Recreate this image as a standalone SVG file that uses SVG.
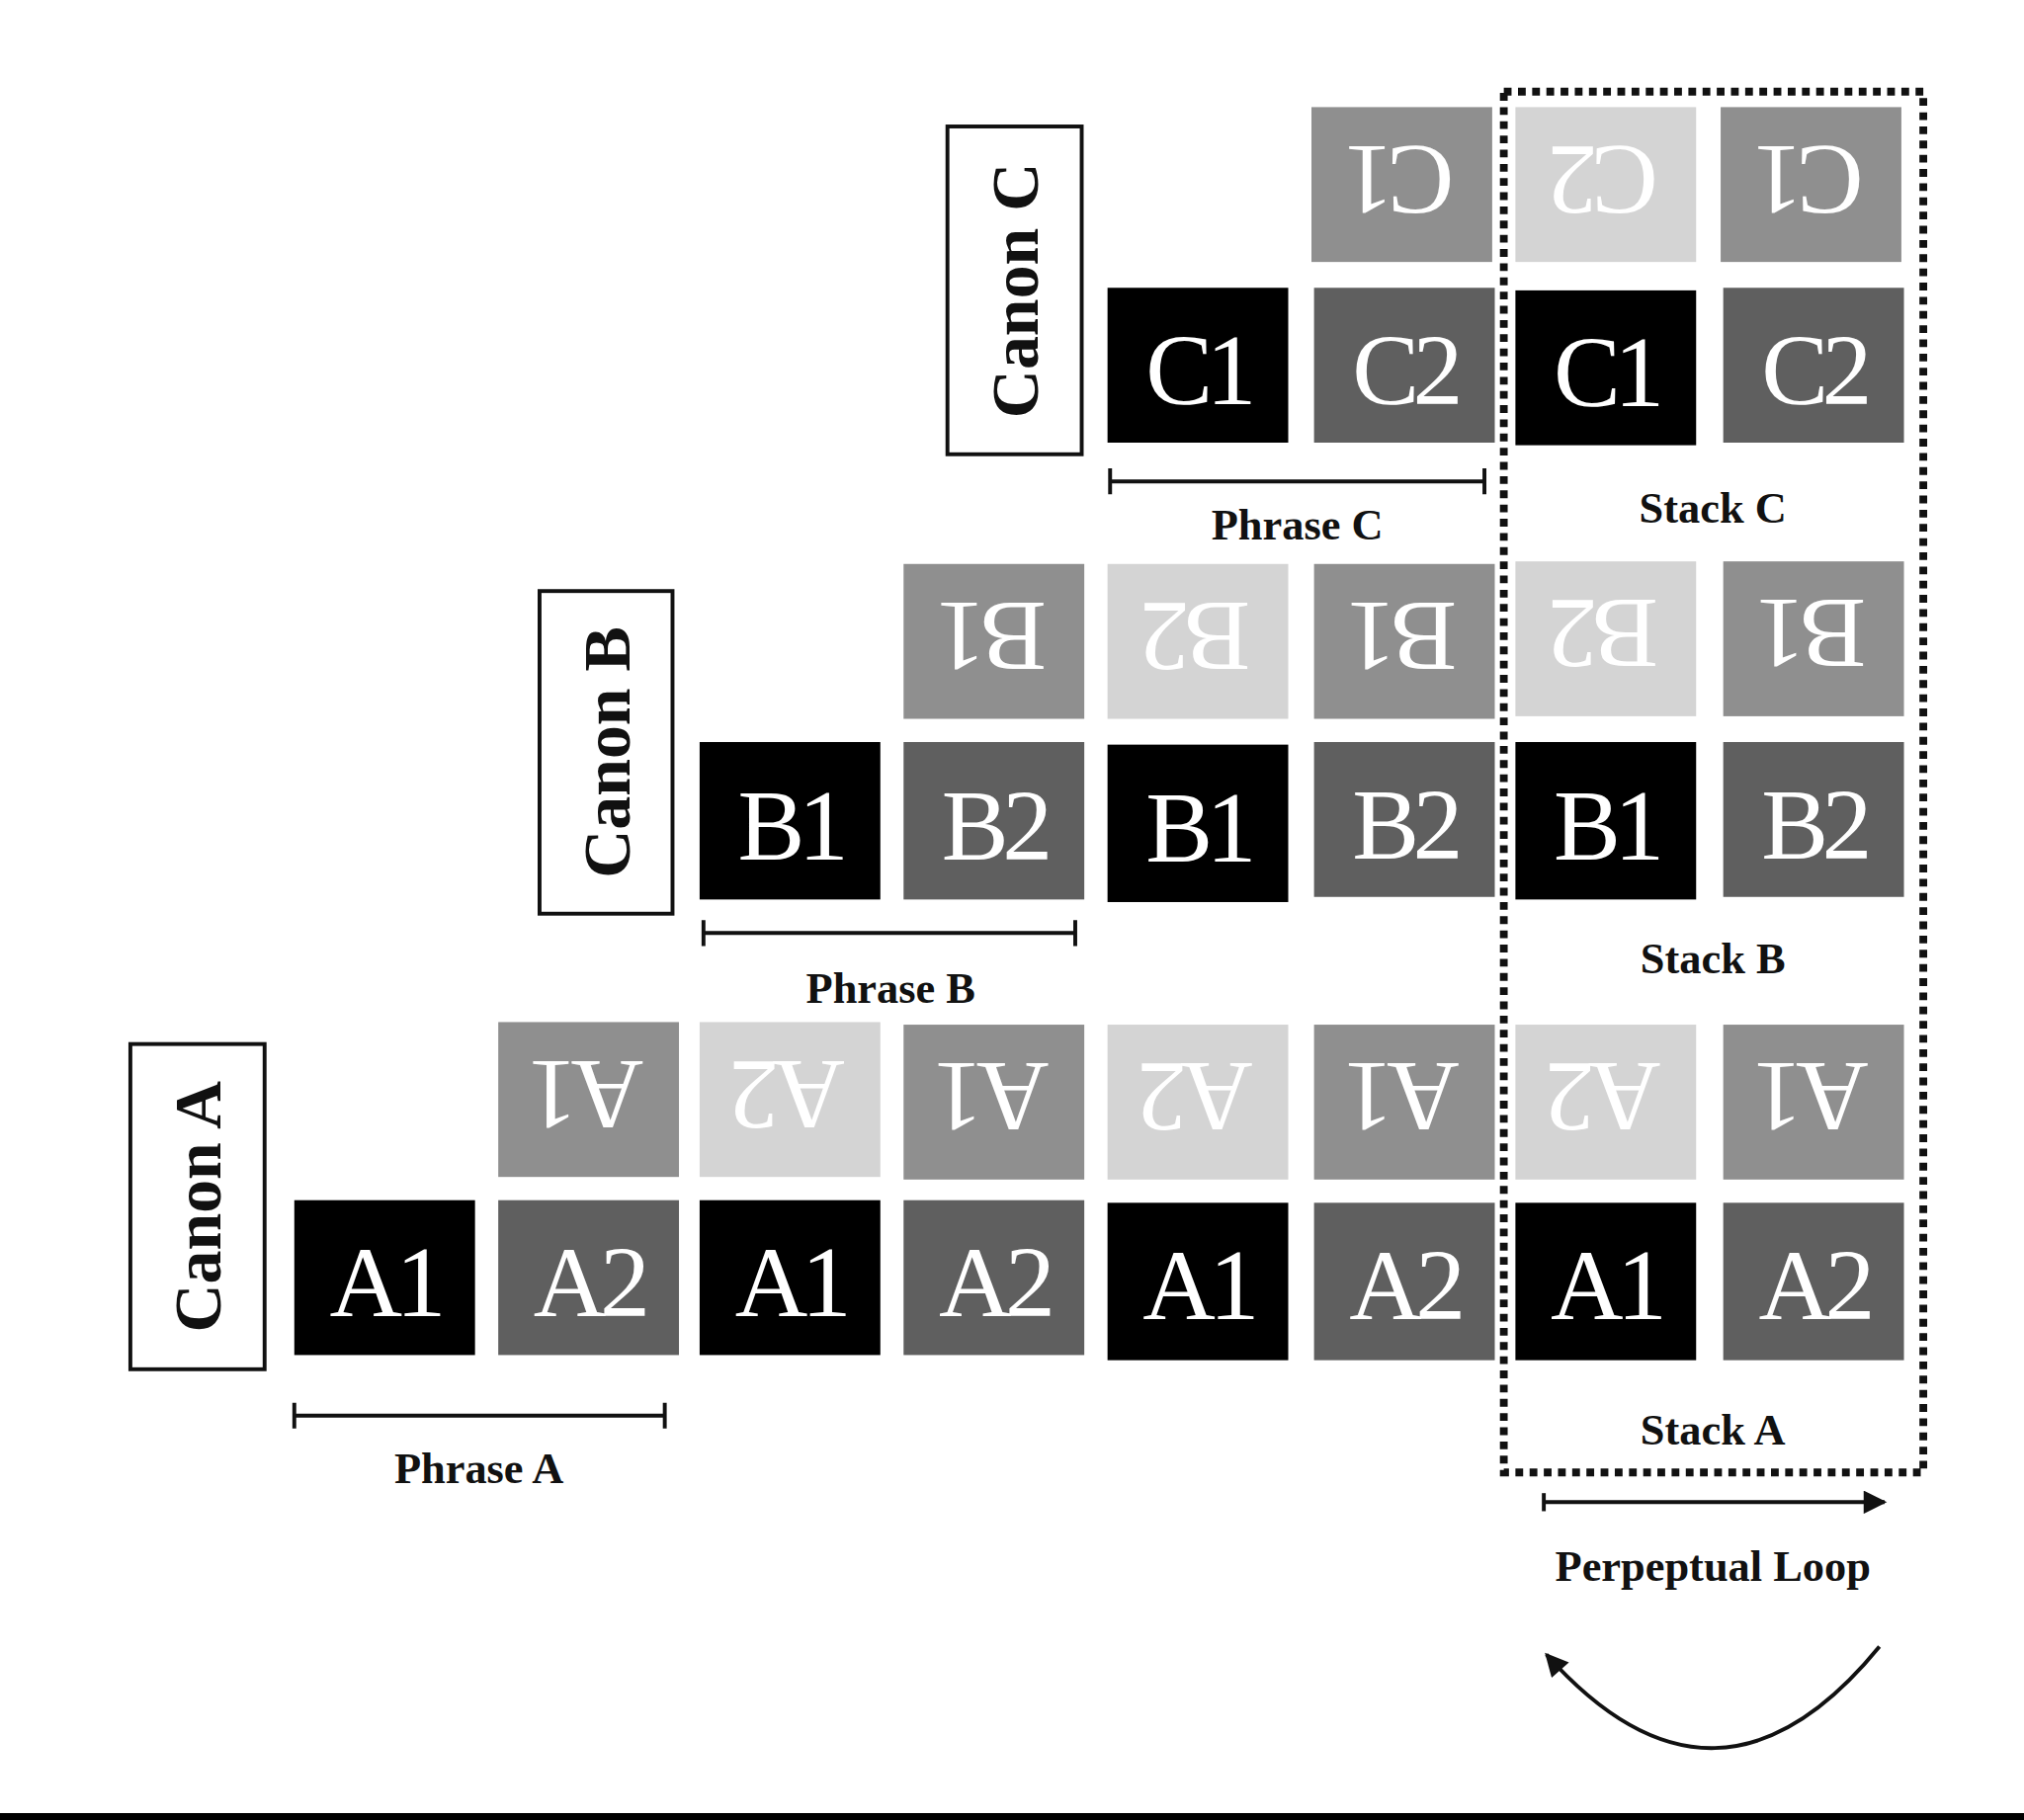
<svg xmlns="http://www.w3.org/2000/svg" width="2048" height="1842" viewBox="0 0 2048 1842">
<defs>
<style>
.k{fill:#000}.d{fill:#5f5f5f}.m{fill:#8f8f8f}.l{fill:#d4d4d4}
.t{font-family:"Liberation Serif",serif;font-size:78px;fill:#fff;text-anchor:middle;letter-spacing:-5px}
.lb{font-family:"Liberation Serif",serif;font-weight:bold;font-size:34px;fill:#111;text-anchor:middle}
.cn{font-family:"Liberation Serif",serif;font-weight:bold;font-size:52px;fill:#111;text-anchor:middle}
.ln{stroke:#111;stroke-width:3;fill:none}
</style>
<marker id="ah" viewBox="0 0 10 10" refX="9" refY="5" markerWidth="22" markerHeight="18" orient="auto" markerUnits="userSpaceOnUse"><path d="M0,0L10,5L0,10z" fill="#111"/></marker>
</defs>
<rect width="2048" height="1842" fill="#fff"/>
<g transform="scale(1.30612)">
<g id="nodes">
<g id="a-b"><rect class="k" x="228" y="930" width="140" height="120"/><text class="t" x="298" y="1020">A1</text>
<rect class="d" x="386" y="930" width="140" height="120"/><text class="t" x="456" y="1020">A2</text>
<rect class="k" x="542" y="930" width="140" height="120"/><text class="t" x="612" y="1020">A1</text>
<rect class="d" x="700" y="930" width="140" height="120"/><text class="t" x="770" y="1020">A2</text>
<rect class="k" x="858" y="932" width="140" height="122"/><text class="t" x="928" y="1022">A1</text>
<rect class="d" x="1018" y="932" width="140" height="122"/><text class="t" x="1088" y="1022">A2</text>
<rect class="k" x="1174" y="932" width="140" height="122"/><text class="t" x="1244" y="1022">A1</text>
<rect class="d" x="1335" y="932" width="140" height="122"/><text class="t" x="1405" y="1022">A2</text></g>
<g id="a-t">
<rect class="m" x="386" y="792" width="140" height="120"/><text class="t" x="456" y="882" transform="rotate(180 456 852)">A1</text>
<rect class="l" x="542" y="792" width="140" height="120"/><text class="t" x="612" y="882" transform="rotate(180 612 852)">A2</text>
<rect class="m" x="700" y="794" width="140" height="120"/><text class="t" x="770" y="884" transform="rotate(180 770 854)">A1</text>
<rect class="l" x="858" y="794" width="140" height="120"/><text class="t" x="928" y="884" transform="rotate(180 928 854)">A2</text>
<rect class="m" x="1018" y="794" width="140" height="120"/><text class="t" x="1088" y="884" transform="rotate(180 1088 854)">A1</text>
<rect class="l" x="1174" y="794" width="140" height="120"/><text class="t" x="1244" y="884" transform="rotate(180 1244 854)">A2</text>
<rect class="m" x="1335" y="794" width="140" height="120"/><text class="t" x="1405" y="884" transform="rotate(180 1405 854)">A1</text></g>
<g id="b-b">
<rect class="k" x="542" y="575" width="140" height="122"/><text class="t" x="612" y="666">B1</text>
<rect class="d" x="700" y="575" width="140" height="122"/><text class="t" x="770" y="666">B2</text>
<rect class="k" x="858" y="577" width="140" height="122"/><text class="t" x="928" y="668">B1</text>
<rect class="d" x="1018" y="575" width="140" height="120"/><text class="t" x="1088" y="665">B2</text>
<rect class="k" x="1174" y="575" width="140" height="122"/><text class="t" x="1244" y="666">B1</text>
<rect class="d" x="1335" y="575" width="140" height="120"/><text class="t" x="1405" y="665">B2</text></g>
<g id="b-t">
<rect class="m" x="700" y="437" width="140" height="120"/><text class="t" x="770" y="527" transform="rotate(180 770 497)">B1</text>
<rect class="l" x="858" y="437" width="140" height="120"/><text class="t" x="928" y="527" transform="rotate(180 928 497)">B2</text>
<rect class="m" x="1018" y="437" width="140" height="120"/><text class="t" x="1088" y="527" transform="rotate(180 1088 497)">B1</text>
<rect class="l" x="1174" y="435" width="140" height="120"/><text class="t" x="1244" y="525" transform="rotate(180 1244 495)">B2</text>
<rect class="m" x="1335" y="435" width="140" height="120"/><text class="t" x="1405" y="525" transform="rotate(180 1405 495)">B1</text></g>
<g id="c-b">
<rect class="k" x="858" y="223" width="140" height="120"/><text class="t" x="928" y="313">C1</text>
<rect class="d" x="1018" y="223" width="140" height="120"/><text class="t" x="1088" y="313">C2</text>
<rect class="k" x="1174" y="225" width="140" height="120"/><text class="t" x="1244" y="315">C1</text>
<rect class="d" x="1335" y="223" width="140" height="120"/><text class="t" x="1405" y="313">C2</text></g>
<g id="c-t">
<rect class="m" x="1016" y="83" width="140" height="120"/><text class="t" x="1086" y="173" transform="rotate(180 1086 143)">C1</text>
<rect class="l" x="1174" y="83" width="140" height="120"/><text class="t" x="1244" y="173" transform="rotate(180 1244 143)">C2</text>
<rect class="m" x="1333" y="83" width="140" height="120"/><text class="t" x="1403" y="173" transform="rotate(180 1403 143)">C1</text></g>
<g id="canonA"><rect x="101" y="809" width="104" height="252" fill="#fff" stroke="#111" stroke-width="3"/><text class="cn" x="153" y="935" transform="rotate(-90 153 935)" dy="18">Canon A</text></g>
<g id="canonB"><rect x="418" y="458" width="103" height="250" fill="#fff" stroke="#111" stroke-width="3"/><text class="cn" x="470" y="583" transform="rotate(-90 470 583)" dy="18">Canon B</text></g>
<g id="canonC"><rect x="734" y="98" width="104" height="254" fill="#fff" stroke="#111" stroke-width="3"/><text class="cn" x="786" y="225" transform="rotate(-90 786 225)" dy="18">Canon C</text></g>
<g id="labels">
<text class="lb" x="371" y="1149">Phrase A</text>
<text class="lb" x="690" y="777">Phrase B</text>
<text class="lb" x="1005" y="418">Phrase C</text>
<text class="lb" x="1327" y="405">Stack C</text>
<text class="lb" x="1327" y="754">Stack B</text>
<text class="lb" x="1327" y="1119">Stack A</text>
<text class="lb" x="1327" y="1225">Perpeptual Loop</text>
</g>
<rect id="loopbox" x="1165" y="71" width="325" height="1070" fill="none" stroke="#111" stroke-width="6" stroke-dasharray="6 5"/>
</g>
<g id="connectors">
<path class="ln" d="M228,1097H515M228,1087V1107M515,1087V1107"/>
<path class="ln" d="M545,723H833M545,713V733M833,713V733"/>
<path class="ln" d="M860,373H1150M860,363V383M1150,363V383"/>
<path class="ln" d="M1196,1157V1171"/>
<path class="ln" d="M1196,1164H1460" marker-end="url(#ah)"/>
<path class="ln" d="M1456,1276Q1330,1430 1198,1282" marker-end="url(#ah)"/>
</g>
</g>
<rect x="0" y="1835" width="2048" height="7" fill="#000"/>
</svg>
